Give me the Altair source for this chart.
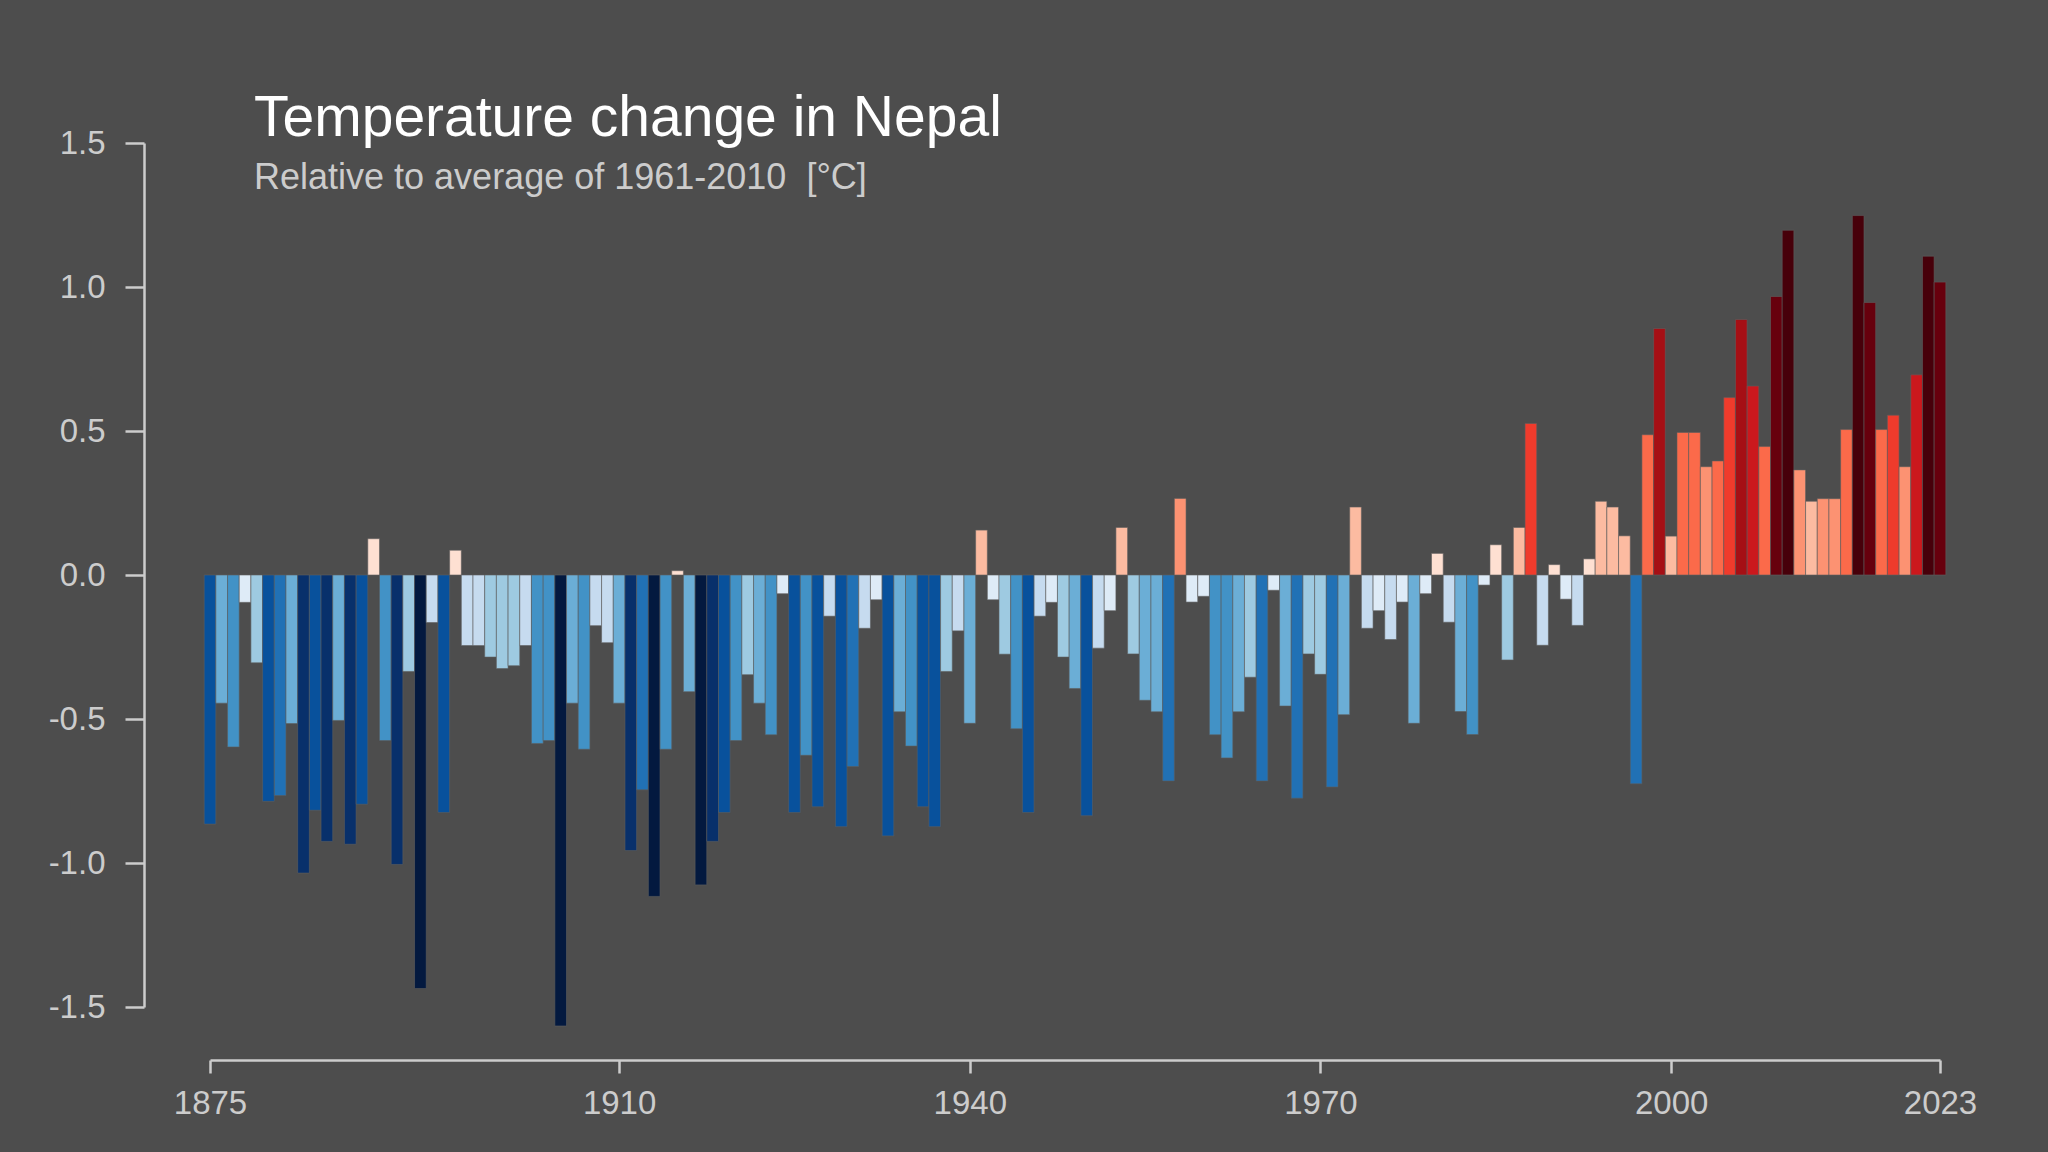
import altair as alt
import pandas as pd

# Annual temperature anomaly in Nepal, relative to 1961-2010 mean [°C]
years = list(range(1875, 2024))
anomaly = [
    -0.865, -0.445, -0.597, -0.095, -0.305, -0.786, -0.766, -0.516, -1.035, -0.817,   # 1875-1884
    -0.925, -0.505, -0.935, -0.796, 0.126, -0.575, -1.005, -0.335, -1.436, -0.165,    # 1885-1894
    -0.825, 0.086, -0.245, -0.245, -0.285, -0.325, -0.315, -0.245, -0.585, -0.575,    # 1895-1904
    -1.566, -0.445, -0.605, -0.176, -0.235, -0.445, -0.957, -0.746, -1.116, -0.605,   # 1905-1914
    0.015, -0.405, -1.076, -0.925, -0.825, -0.575, -0.346, -0.445, -0.555, -0.065,    # 1915-1924
    -0.825, -0.626, -0.805, -0.143, -0.874, -0.665, -0.185, -0.086, -0.906, -0.475,   # 1925-1934
    -0.594, -0.805, -0.874, -0.335, -0.194, -0.515, 0.156, -0.086, -0.275, -0.534,    # 1935-1944
    -0.825, -0.143, -0.095, -0.285, -0.394, -0.836, -0.254, -0.124, 0.165, -0.274,    # 1945-1954
    -0.435, -0.475, -0.715, 0.266, -0.094, -0.074, -0.555, -0.635, -0.475, -0.355,    # 1955-1964
    -0.715, -0.053, -0.455, -0.775, -0.274, -0.345, -0.736, -0.485, 0.236, -0.185,    # 1965-1974
    -0.124, -0.224, -0.094, -0.515, -0.065, 0.075, -0.164, -0.474, -0.554, -0.035,    # 1975-1984
    0.105, -0.295, 0.165, 0.526, -0.244, 0.036, -0.084, -0.175, 0.056, 0.256,         # 1985-1994
    0.236, 0.136, -0.725, 0.487, 0.856, 0.135, 0.495, 0.495, 0.376, 0.396,            # 1995-2004
    0.616, 0.887, 0.656, 0.446, 0.967, 1.197, 0.365, 0.256, 0.265, 0.265,             # 2005-2014
    0.505, 1.248, 0.946, 0.505, 0.555, 0.376, 0.695, 1.107, 1.017,                    # 2015-2023
]
assert len(years) == len(anomaly)

x_ticks = [1875, 1910, 1940, 1970, 2000, 2023]
y_ticks = [-1.5, -1.0, -0.5, 0.0, 0.5, 1.0, 1.5]

# colour classes (stripes palette)
color_breaks = [-1.04, -0.91, -0.78, -0.65, -0.52, -0.39, -0.26, -0.13, 0.0,
                0.13, 0.26, 0.39, 0.52, 0.65, 0.78, 0.91, 1.04]
color_list = ["#03193f", "#08306b", "#08519c", "#2171b5", "#4292c6", "#6baed6",
              "#9ecae1", "#c6dbef", "#deebf7", "#fee0d2", "#fcbba1", "#fc9272",
              "#fb6a4a", "#ef3b2c", "#cb181d", "#a50f15", "#67000d", "#47000a"]

df = pd.DataFrame({"year": years, "anomaly": anomaly})

BG = "#4d4d4d"
AX = "#cccccc"
FONT = "Liberation Sans"

chart = (
    alt.Chart(df)
    .transform_calculate(x0="datum.year - 0.5", x1="datum.year + 0.5")
    .mark_bar(stroke="#5e5e5e", strokeWidth=0.6)
    .encode(
        x=alt.X(
            "x0:Q",
            scale=alt.Scale(domain=[1875, 2023], nice=False, zero=False),
            axis=alt.Axis(
                values=x_ticks, format="d", title=None, grid=False,
                offset=53, tickSize=13, labelPadding=14,
                labelFlush=False, labelOverlap=False,
            ),
        ),
        x2="x1:Q",
        y=alt.Y(
            "anomaly:Q",
            scale=alt.Scale(domain=[-1.5, 1.5], nice=False),
            axis=alt.Axis(
                values=y_ticks, title=None, grid=False,
                labelExpr="replace(format(datum.value, '.1f'), '\u2212', '-')",
                offset=66, tickSize=19, labelPadding=20,
                labelFlush=False, labelOverlap=False,
            ),
        ),
        y2=alt.datum(0),
        color=alt.Color(
            "anomaly:Q",
            scale=alt.Scale(type="threshold", domain=color_breaks, range=color_list),
            legend=None,
        ),
        tooltip=["year:Q", "anomaly:Q"],
    )
    .properties(
        width=1730,
        height=864,
        background=BG,
        padding={"left": 210, "top": 143, "right": 108, "bottom": 145},
        autosize=alt.AutoSizeParams(type="none"),
        title=alt.TitleParams(
            text="Temperature change in Nepal",
            subtitle="Relative to average of 1961-2010\u00a0 [°C]",
            anchor="start",
            frame="group",
            orient="top",
            offset=0,
            dx=44,
            dy=70,
            font=FONT,
            fontSize=57,
            fontWeight="normal",
            color="#ffffff",
            subtitleFont=FONT,
            subtitleFontSize=36,
            subtitleColor="#cccccc",
            subtitlePadding=13,
        ),
    )
    .configure_view(stroke=None)
    .configure_axis(
        domainColor=AX,
        domainWidth=2.5,
        tickColor=AX,
        tickWidth=2.5,
        labelColor=AX,
        labelFont=FONT,
        labelFontSize=33,
    )
)

chart.save("out.html", embed_options={"renderer": "svg", "actions": False})
